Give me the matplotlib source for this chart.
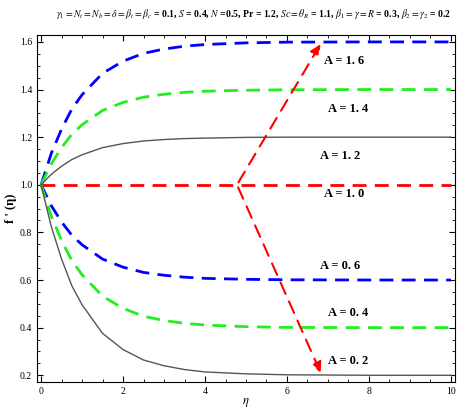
import matplotlib
matplotlib.use("Agg")
import matplotlib.pyplot as plt
from matplotlib.ticker import MultipleLocator

eta = [0, 0.25, 0.5, 0.75, 1, 1.5, 2, 2.5, 3, 3.5, 4, 5, 6, 8, 10]
f16 = [1, 1.132, 1.234, 1.318, 1.378, 1.468, 1.519, 1.552, 1.57, 1.582, 1.589, 1.596, 1.599, 1.6, 1.6]
f14 = [1, 1.088, 1.156, 1.212, 1.252, 1.312, 1.346, 1.368, 1.38, 1.388, 1.393, 1.397, 1.399, 1.4, 1.4]
f12 = [1, 1.044, 1.078, 1.106, 1.126, 1.156, 1.173, 1.184, 1.19, 1.194, 1.196, 1.199, 1.2, 1.2, 1.2]
f10 = [1.0] * 15
f06 = [1, .912, .844, .788, .748, .688, .654, .632, .62, .612, .607, .603, .601, .6, .6]
f04 = [1, .868, .766, .682, .622, .532, .481, .448, .43, .418, .411, .404, .401, .4, .4]
f02 = [1, .824, .688, .576, .496, .376, .308, .264, .24, .224, .214, .206, .202, .2, .2]
labels = ["A = 1. 6", "A = 1. 4", "A = 1. 2", "A = 1. 0", "A = 0. 6", "A = 0. 4", "A = 0. 2"]
label_pos = [(6.9, 1.52), (7.0, 1.32), (6.8, 1.12), (6.9, 0.96), (6.8, 0.66), (7.0, 0.46), (7.0, 0.26)]

plt.rcParams['font.family'] = ['Liberation Serif', 'DejaVu Serif']
plt.rcParams['mathtext.fontset'] = 'stix'
fig = plt.figure(figsize=(4.74, 4.09), dpi=100)
ax = fig.add_axes([0.078, 0.065, 0.882, 0.85])

styles = [(f16, 'blue', (0, (5, 3)), 2), (f14, '#22ee22', (0, (5, 3)), 2), (f12, '#555555', '-', 1),
          (f10, 'red', (0, (5, 3)), 2), (f06, 'blue', (0, (5, 3)), 2), (f04, '#22ee22', (0, (5, 3)), 2),
          (f02, '#555555', '-', 1)]
for f, c, ls, lw in styles:
    ax.plot(eta, f, color=c, ls=ls, lw=lw)

for t, (x, y) in zip(labels, label_pos):
    ax.text(x, y, t, fontsize=9, fontweight='bold', ha='left', va='center')

for yt in (1.6, 0.2):
    ax.annotate('', xy=(6.85, yt), xytext=(4.78, 1.0),
                arrowprops=dict(arrowstyle='-|>', color='red', lw=1.5, ls=(0, (6, 4)), mutation_scale=15))

ax.set_xlim(-0.1, 10.1)
ax.set_ylim(0.17, 1.63)
ax.xaxis.set_major_locator(MultipleLocator(2))
ax.xaxis.set_minor_locator(MultipleLocator(0.5))
ax.yaxis.set_major_locator(MultipleLocator(0.2))
ax.yaxis.set_minor_locator(MultipleLocator(0.05))
ax.tick_params(which='both', direction='in', top=True, right=True, labelsize=7)
ax.tick_params(which='major', length=4)
ax.tick_params(which='minor', length=2)
ax.set_xlabel(r'$\eta$', fontsize=9, labelpad=0)
ax.set_ylabel("f ' (η)", fontsize=9, fontweight='bold', labelpad=2)
fig.text(0.535, 0.965, r"$\gamma_1 = N_t = N_b = \delta = \beta_t = \beta_c$ = 0.1, $S$ = 0.4, $N$ =0.5, Pr = 1.2, $Sc = \theta_R$ = 1.1, $\beta_1 = \gamma = R$ = 0.3, $\beta_2 = \gamma_2$ = 0.2",
         ha='center', va='center', fontsize=7, fontweight='bold')
fig.savefig('out.png', dpi=100)
